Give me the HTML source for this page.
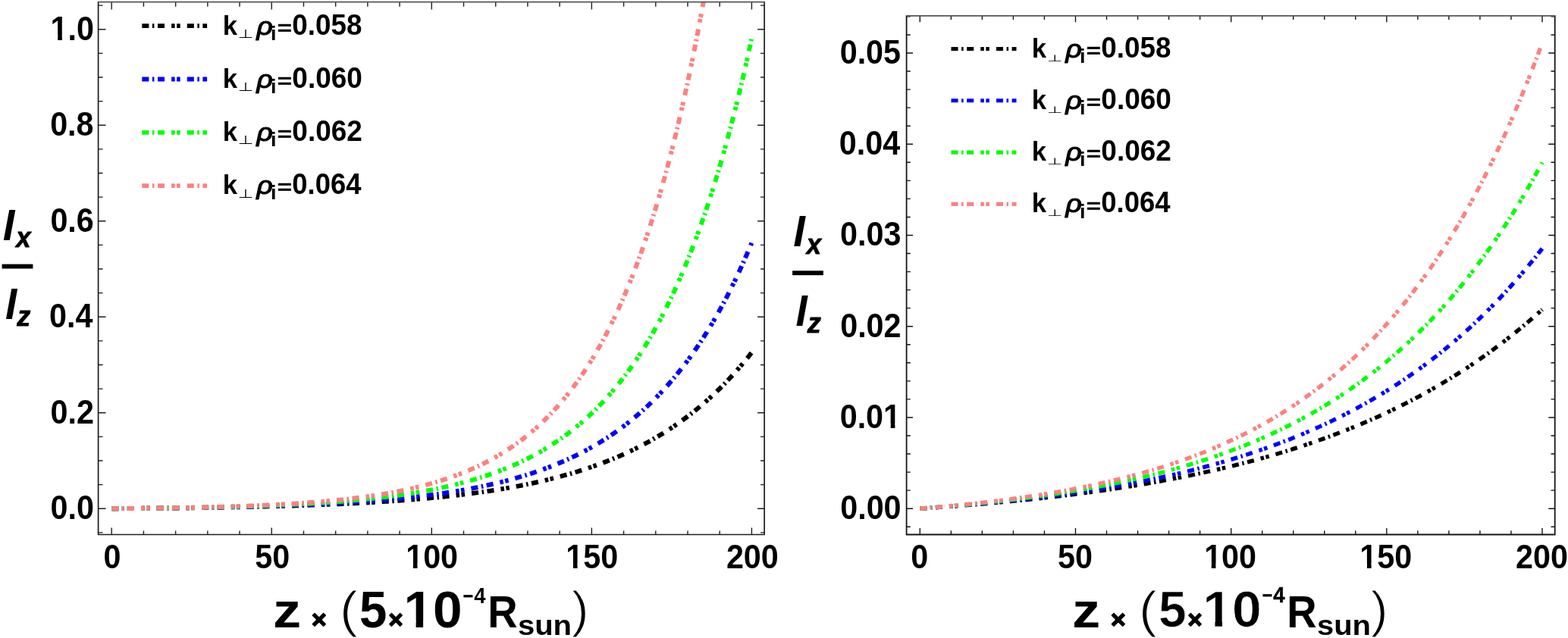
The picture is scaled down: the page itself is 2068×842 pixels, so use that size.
<!DOCTYPE html>
<html lang="en"><head><meta charset="utf-8"><title>Ix/Iz versus z</title>
<style>html,body{margin:0;padding:0;background:#fff}body{width:2068px;height:842px;overflow:hidden}svg{display:block}text{font-family:"Liberation Sans",Arial,Helvetica,sans-serif;font-size:100px;font-kerning:none;fill:#000}</style>
</head><body>
<svg width="2068" height="842" viewBox="0 0 2068 842">
<rect width="2068" height="842" fill="#fff"/>
<g id="left">
<clipPath id="clip-left"><rect x="129.6" y="2.7" width="878.5" height="702.8"/></clipPath>
<g clip-path="url(#clip-left)" fill="none" stroke-width="6.0" stroke-dasharray="9.07 4.53 2.52 4.53 9.07">
<path d="M147.2 671.2L150.58 671.18L153.95 671.15L157.33 671.13L160.71 671.1L164.08 671.08L167.46 671.05L170.84 671.02L174.21 671L177.59 670.97L180.97 670.94L184.34 670.91L187.72 670.88L191.1 670.85L194.48 670.82L197.85 670.79L201.23 670.76L204.61 670.72L207.98 670.69L211.36 670.65L214.74 670.62L218.11 670.58L221.49 670.55L224.87 670.51L228.24 670.47L231.62 670.43L235 670.39L238.37 670.35L241.75 670.31L245.13 670.27L248.5 670.23L251.88 670.18L255.26 670.14L258.63 670.09L262.01 670.04L265.39 669.99L268.76 669.95L272.14 669.9L275.52 669.84L278.9 669.79L282.27 669.74L285.65 669.68L289.03 669.63L292.4 669.57L295.78 669.51L299.16 669.45L302.53 669.39L305.91 669.33L309.29 669.27L312.66 669.21L316.04 669.14L319.42 669.07L322.79 669L326.17 668.93L329.55 668.86L332.92 668.79L336.3 668.72L339.68 668.64L343.05 668.56L346.43 668.48L349.81 668.4L353.18 668.32L356.56 668.23L359.94 668.15L363.32 668.06L366.69 667.97L370.07 667.88L373.45 667.78L376.82 667.69L380.2 667.59L383.58 667.49L386.95 667.39L390.33 667.29L393.71 667.18L397.08 667.07L400.46 666.96L403.84 666.85L407.21 666.73L410.59 666.61L413.97 666.49L417.34 666.37L420.72 666.24L424.1 666.12L427.47 665.99L430.85 665.85L434.23 665.72L437.6 665.58L440.98 665.43L444.36 665.29L447.74 665.14L451.11 664.99L454.49 664.83L457.87 664.68L461.24 664.51L464.62 664.35L468 664.18L471.37 664.01L474.75 663.83L478.13 663.66L481.5 663.47L484.88 663.29L488.26 663.1L491.63 662.9L495.01 662.7L498.39 662.5L501.76 662.29L505.14 662.08L508.52 661.86L511.89 661.64L515.27 661.42L518.65 661.19L522.02 660.95L525.4 660.71L528.78 660.47L532.16 660.22L535.53 659.96L538.91 659.7L542.29 659.44L545.66 659.17L549.04 658.89L552.42 658.6L555.79 658.31L559.17 658.02L562.55 657.72L565.92 657.41L569.3 657.1L572.68 656.77L576.05 656.45L579.43 656.11L582.81 655.77L586.18 655.42L589.56 655.06L592.94 654.7L596.31 654.33L599.69 653.95L603.07 653.56L606.44 653.16L609.82 652.76L613.2 652.35L616.58 651.93L619.95 651.5L623.33 651.06L626.71 650.61L630.08 650.15L633.46 649.68L636.84 649.2L640.21 648.72L643.59 648.22L646.97 647.71L650.34 647.19L653.72 646.66L657.1 646.12L660.47 645.57L663.85 645L667.23 644.43L670.6 643.84L673.98 643.24L677.36 642.62L680.73 642L684.11 641.36L687.49 640.7L690.86 640.04L694.24 639.35L697.62 638.66L701 637.95L704.37 637.22L707.75 636.48L711.13 635.73L714.5 634.95L717.88 634.17L721.26 633.36L724.63 632.54L728.01 631.7L731.39 630.84L734.76 629.97L738.14 629.07L741.52 628.16L744.89 627.23L748.27 626.28L751.65 625.31L755.02 624.31L758.4 623.3L761.78 622.27L765.15 621.21L768.53 620.13L771.91 619.03L775.28 617.91L778.66 616.76L782.04 615.59L785.42 614.39L788.79 613.17L792.17 611.92L795.55 610.65L798.92 609.34L802.3 608.02L805.68 606.66L809.05 605.27L812.43 603.86L815.81 602.41L819.18 600.94L822.56 599.43L825.94 597.9L829.31 596.32L832.69 594.72L836.07 593.08L839.44 591.41L842.82 589.71L846.2 587.96L849.57 586.18L852.95 584.36L856.33 582.51L859.7 580.61L863.08 578.68L866.46 576.7L869.84 574.69L873.21 572.63L876.59 570.52L879.97 568.37L883.34 566.18L886.72 563.94L890.1 561.65L893.47 559.32L896.85 556.94L900.23 554.5L903.6 552.02L906.98 549.48L910.36 546.88L913.73 544.24L917.11 541.54L920.49 538.78L923.86 535.96L927.24 533.08L930.62 530.14L933.99 527.14L937.37 524.08L940.75 520.95L944.12 517.76L947.5 514.5L950.88 511.17L954.26 507.77L957.63 504.3L961.01 500.75L964.39 497.13L967.76 493.43L971.14 489.66L974.52 485.81L977.89 481.87L981.27 477.85L984.65 473.75L988.02 469.56L991.4 465.28" stroke="#000000"/>
<path d="M147.2 671.2L150.58 671.18L153.95 671.15L157.33 671.12L160.71 671.1L164.08 671.07L167.46 671.04L170.84 671.02L174.21 670.99L177.59 670.96L180.97 670.93L184.34 670.9L187.72 670.86L191.1 670.83L194.48 670.8L197.85 670.76L201.23 670.73L204.61 670.69L207.98 670.66L211.36 670.62L214.74 670.58L218.11 670.54L221.49 670.5L224.87 670.46L228.24 670.42L231.62 670.38L235 670.33L238.37 670.29L241.75 670.24L245.13 670.19L248.5 670.15L251.88 670.1L255.26 670.05L258.63 669.99L262.01 669.94L265.39 669.89L268.76 669.83L272.14 669.77L275.52 669.72L278.9 669.66L282.27 669.6L285.65 669.53L289.03 669.47L292.4 669.4L295.78 669.34L299.16 669.27L302.53 669.2L305.91 669.13L309.29 669.05L312.66 668.98L316.04 668.9L319.42 668.82L322.79 668.74L326.17 668.66L329.55 668.57L332.92 668.49L336.3 668.4L339.68 668.31L343.05 668.22L346.43 668.12L349.81 668.03L353.18 667.93L356.56 667.82L359.94 667.72L363.32 667.61L366.69 667.5L370.07 667.39L373.45 667.28L376.82 667.16L380.2 667.04L383.58 666.92L386.95 666.79L390.33 666.67L393.71 666.53L397.08 666.4L400.46 666.26L403.84 666.12L407.21 665.98L410.59 665.83L413.97 665.68L417.34 665.52L420.72 665.37L424.1 665.2L427.47 665.04L430.85 664.87L434.23 664.69L437.6 664.52L440.98 664.33L444.36 664.15L447.74 663.96L451.11 663.76L454.49 663.56L457.87 663.36L461.24 663.15L464.62 662.93L468 662.72L471.37 662.49L474.75 662.26L478.13 662.03L481.5 661.79L484.88 661.54L488.26 661.29L491.63 661.03L495.01 660.76L498.39 660.49L501.76 660.22L505.14 659.93L508.52 659.64L511.89 659.35L515.27 659.04L518.65 658.73L522.02 658.41L525.4 658.09L528.78 657.76L532.16 657.41L535.53 657.06L538.91 656.71L542.29 656.34L545.66 655.97L549.04 655.58L552.42 655.19L555.79 654.79L559.17 654.38L562.55 653.96L565.92 653.53L569.3 653.09L572.68 652.63L576.05 652.17L579.43 651.7L582.81 651.22L586.18 650.72L589.56 650.21L592.94 649.7L596.31 649.16L599.69 648.62L603.07 648.06L606.44 647.49L609.82 646.91L613.2 646.32L616.58 645.7L619.95 645.08L623.33 644.44L626.71 643.78L630.08 643.11L633.46 642.43L636.84 641.73L640.21 641.01L643.59 640.27L646.97 639.52L650.34 638.75L653.72 637.96L657.1 637.15L660.47 636.32L663.85 635.48L667.23 634.61L670.6 633.73L673.98 632.82L677.36 631.89L680.73 630.94L684.11 629.97L687.49 628.97L690.86 627.95L694.24 626.91L697.62 625.84L701 624.75L704.37 623.63L707.75 622.49L711.13 621.31L714.5 620.11L717.88 618.89L721.26 617.63L724.63 616.34L728.01 615.03L731.39 613.68L734.76 612.3L738.14 610.89L741.52 609.44L744.89 607.96L748.27 606.45L751.65 604.9L755.02 603.31L758.4 601.69L761.78 600.03L765.15 598.33L768.53 596.59L771.91 594.8L775.28 592.98L778.66 591.11L782.04 589.2L785.42 587.25L788.79 585.24L792.17 583.2L795.55 581.1L798.92 578.95L802.3 576.75L805.68 574.5L809.05 572.2L812.43 569.85L815.81 567.43L819.18 564.97L822.56 562.44L825.94 559.85L829.31 557.21L832.69 554.5L836.07 551.72L839.44 548.88L842.82 545.98L846.2 543.01L849.57 539.96L852.95 536.85L856.33 533.66L859.7 530.39L863.08 527.05L866.46 523.63L869.84 520.13L873.21 516.55L876.59 512.88L879.97 509.13L883.34 505.29L886.72 501.35L890.1 497.33L893.47 493.21L896.85 488.99L900.23 484.68L903.6 480.26L906.98 475.74L910.36 471.11L913.73 466.37L917.11 461.52L920.49 456.56L923.86 451.48L927.24 446.28L930.62 440.96L933.99 435.51L937.37 429.93L940.75 424.23L944.12 418.38L947.5 412.41L950.88 406.29L954.26 400.02L957.63 393.61L961.01 387.05L964.39 380.33L967.76 373.45L971.14 366.42L974.52 359.21L977.89 351.84L981.27 344.29L984.65 336.57L988.02 328.66L991.4 320.57" stroke="#0000ff"/>
<path d="M147.2 671.2L150.58 671.17L153.95 671.14L157.33 671.11L160.71 671.08L164.08 671.05L167.46 671.02L170.84 670.99L174.21 670.96L177.59 670.92L180.97 670.89L184.34 670.85L187.72 670.82L191.1 670.78L194.48 670.74L197.85 670.7L201.23 670.66L204.61 670.62L207.98 670.58L211.36 670.53L214.74 670.49L218.11 670.44L221.49 670.39L224.87 670.34L228.24 670.3L231.62 670.24L235 670.19L238.37 670.14L241.75 670.08L245.13 670.03L248.5 669.97L251.88 669.91L255.26 669.85L258.63 669.79L262.01 669.72L265.39 669.66L268.76 669.59L272.14 669.52L275.52 669.45L278.9 669.38L282.27 669.3L285.65 669.22L289.03 669.15L292.4 669.06L295.78 668.98L299.16 668.9L302.53 668.81L305.91 668.72L309.29 668.63L312.66 668.54L316.04 668.44L319.42 668.34L322.79 668.24L326.17 668.13L329.55 668.03L332.92 667.92L336.3 667.81L339.68 667.69L343.05 667.57L346.43 667.45L349.81 667.33L353.18 667.2L356.56 667.07L359.94 666.93L363.32 666.8L366.69 666.66L370.07 666.51L373.45 666.36L376.82 666.21L380.2 666.05L383.58 665.89L386.95 665.73L390.33 665.56L393.71 665.39L397.08 665.21L400.46 665.03L403.84 664.84L407.21 664.65L410.59 664.45L413.97 664.25L417.34 664.05L420.72 663.83L424.1 663.62L427.47 663.39L430.85 663.16L434.23 662.93L437.6 662.69L440.98 662.44L444.36 662.19L447.74 661.93L451.11 661.66L454.49 661.39L457.87 661.11L461.24 660.82L464.62 660.52L468 660.22L471.37 659.91L474.75 659.59L478.13 659.27L481.5 658.93L484.88 658.59L488.26 658.23L491.63 657.87L495.01 657.5L498.39 657.12L501.76 656.73L505.14 656.33L508.52 655.92L511.89 655.5L515.27 655.06L518.65 654.62L522.02 654.17L525.4 653.7L528.78 653.22L532.16 652.73L535.53 652.23L538.91 651.71L542.29 651.18L545.66 650.64L549.04 650.08L552.42 649.51L555.79 648.92L559.17 648.32L562.55 647.7L565.92 647.07L569.3 646.42L572.68 645.75L576.05 645.07L579.43 644.37L582.81 643.65L586.18 642.91L589.56 642.16L592.94 641.38L596.31 640.58L599.69 639.77L603.07 638.93L606.44 638.07L609.82 637.19L613.2 636.28L616.58 635.36L619.95 634.41L623.33 633.43L626.71 632.43L630.08 631.4L633.46 630.35L636.84 629.27L640.21 628.16L643.59 627.02L646.97 625.86L650.34 624.66L653.72 623.44L657.1 622.18L660.47 620.89L663.85 619.56L667.23 618.2L670.6 616.81L673.98 615.38L677.36 613.92L680.73 612.41L684.11 610.87L687.49 609.29L690.86 607.66L694.24 606L697.62 604.29L701 602.54L704.37 600.74L707.75 598.9L711.13 597.01L714.5 595.07L717.88 593.08L721.26 591.04L724.63 588.95L728.01 586.8L731.39 584.6L734.76 582.34L738.14 580.02L741.52 577.64L744.89 575.21L748.27 572.7L751.65 570.14L755.02 567.51L758.4 564.81L761.78 562.04L765.15 559.2L768.53 556.28L771.91 553.3L775.28 550.23L778.66 547.09L782.04 543.86L785.42 540.55L788.79 537.16L792.17 533.68L795.55 530.1L798.92 526.44L802.3 522.68L805.68 518.83L809.05 514.87L812.43 510.82L815.81 506.66L819.18 502.39L822.56 498.01L825.94 493.52L829.31 488.92L832.69 484.19L836.07 479.35L839.44 474.38L842.82 469.28L846.2 464.05L849.57 458.68L852.95 453.18L856.33 447.53L859.7 441.74L863.08 435.8L866.46 429.71L869.84 423.46L873.21 417.05L876.59 410.47L879.97 403.73L883.34 396.81L886.72 389.71L890.1 382.43L893.47 374.96L896.85 367.3L900.23 359.44L903.6 351.38L906.98 343.11L910.36 334.63L913.73 325.93L917.11 317.01L920.49 307.85L923.86 298.46L927.24 288.83L930.62 278.95L933.99 268.82L937.37 258.42L940.75 247.76L944.12 236.82L947.5 225.6L950.88 214.09L954.26 202.28L957.63 190.17L961.01 177.75L964.39 165.01L967.76 151.94L971.14 138.53L974.52 124.78L977.89 110.67L981.27 96.2L984.65 81.36L988.02 66.13L991.4 50.52" stroke="#00ff00"/>
<path d="M147.2 671.2L150.58 671.17L153.95 671.14L157.33 671.11L160.71 671.08L164.08 671.04L167.46 671.01L170.84 670.98L174.21 670.94L177.59 670.9L180.97 670.87L184.34 670.83L187.72 670.79L191.1 670.75L194.48 670.7L197.85 670.66L201.23 670.61L204.61 670.57L207.98 670.52L211.36 670.47L214.74 670.42L218.11 670.37L221.49 670.32L224.87 670.26L228.24 670.21L231.62 670.15L235 670.09L238.37 670.03L241.75 669.97L245.13 669.9L248.5 669.84L251.88 669.77L255.26 669.7L258.63 669.63L262.01 669.55L265.39 669.48L268.76 669.4L272.14 669.32L275.52 669.23L278.9 669.15L282.27 669.06L285.65 668.97L289.03 668.88L292.4 668.78L295.78 668.69L299.16 668.59L302.53 668.48L305.91 668.37L309.29 668.27L312.66 668.15L316.04 668.04L319.42 667.92L322.79 667.79L326.17 667.67L329.55 667.54L332.92 667.41L336.3 667.27L339.68 667.13L343.05 666.98L346.43 666.83L349.81 666.68L353.18 666.52L356.56 666.36L359.94 666.19L363.32 666.02L366.69 665.85L370.07 665.66L373.45 665.48L376.82 665.29L380.2 665.09L383.58 664.88L386.95 664.68L390.33 664.46L393.71 664.24L397.08 664.01L400.46 663.78L403.84 663.54L407.21 663.29L410.59 663.04L413.97 662.78L417.34 662.51L420.72 662.23L424.1 661.95L427.47 661.66L430.85 661.36L434.23 661.05L437.6 660.73L440.98 660.4L444.36 660.07L447.74 659.72L451.11 659.37L454.49 659L457.87 658.63L461.24 658.24L464.62 657.84L468 657.43L471.37 657.01L474.75 656.58L478.13 656.14L481.5 655.68L484.88 655.21L488.26 654.73L491.63 654.23L495.01 653.72L498.39 653.19L501.76 652.65L505.14 652.09L508.52 651.52L511.89 650.93L515.27 650.33L518.65 649.71L522.02 649.07L525.4 648.41L528.78 647.73L532.16 647.04L535.53 646.32L538.91 645.59L542.29 644.83L545.66 644.05L549.04 643.25L552.42 642.43L555.79 641.58L559.17 640.71L562.55 639.81L565.92 638.89L569.3 637.95L572.68 636.97L576.05 635.97L579.43 634.94L582.81 633.88L586.18 632.8L589.56 631.68L592.94 630.52L596.31 629.34L599.69 628.12L603.07 626.87L606.44 625.58L609.82 624.26L613.2 622.89L616.58 621.49L619.95 620.05L623.33 618.57L626.71 617.04L630.08 615.48L633.46 613.87L636.84 612.21L640.21 610.5L643.59 608.75L646.97 606.95L650.34 605.09L653.72 603.19L657.1 601.23L660.47 599.21L663.85 597.14L667.23 595.01L670.6 592.81L673.98 590.56L677.36 588.24L680.73 585.85L684.11 583.4L687.49 580.88L690.86 578.28L694.24 575.61L697.62 572.87L701 570.05L704.37 567.15L707.75 564.16L711.13 561.1L714.5 557.94L717.88 554.69L721.26 551.36L724.63 547.92L728.01 544.39L731.39 540.76L734.76 537.03L738.14 533.19L741.52 529.24L744.89 525.18L748.27 521.01L751.65 516.71L755.02 512.3L758.4 507.76L761.78 503.08L765.15 498.28L768.53 493.34L771.91 488.26L775.28 483.04L778.66 477.67L782.04 472.14L785.42 466.46L788.79 460.62L792.17 454.61L795.55 448.43L798.92 442.07L802.3 435.54L805.68 428.81L809.05 421.9L812.43 414.79L815.81 407.48L819.18 399.97L822.56 392.24L825.94 384.28L829.31 376.11L832.69 367.7L836.07 359.05L839.44 350.16L842.82 341.01L846.2 331.61L849.57 321.94L852.95 311.99L856.33 301.76L859.7 291.24L863.08 280.42L866.46 269.29L869.84 257.85L873.21 246.09L876.59 233.99L879.97 221.54L883.34 208.74L886.72 195.58L890.1 182.05L893.47 168.13L896.85 153.81L900.23 139.09L903.6 123.95L906.98 108.38L910.36 92.37L913.73 75.91L917.11 58.97L920.49 41.56L923.86 23.65L927.24 5.24L930.62 -13.7L933.99 -33.18L937.37 -53.21L940.75 -73.81L944.12 -95L947.5 -116.78L950.88 -139.19L954.26 -162.23L957.63 -185.92L961.01 -210.29L964.39 -235.35L967.76 -261.12L971.14 -287.63L974.52 -314.88L977.89 -342.91L981.27 -371.74L984.65 -401.38L988.02 -431.87L991.4 -463.22" stroke="#ff8080"/>
</g>
<path d="M147.2 705.5v-9M147.2 2.7v9.9M189.41 705.5v-5.05M189.41 2.7v5.95M231.62 705.5v-5.05M231.62 2.7v5.95M273.83 705.5v-5.05M273.83 2.7v5.95M316.04 705.5v-5.05M316.04 2.7v5.95M358.25 705.5v-9M358.25 2.7v9.9M400.46 705.5v-5.05M400.46 2.7v5.95M442.67 705.5v-5.05M442.67 2.7v5.95M484.88 705.5v-5.05M484.88 2.7v5.95M527.09 705.5v-5.05M527.09 2.7v5.95M569.3 705.5v-9M569.3 2.7v9.9M611.51 705.5v-5.05M611.51 2.7v5.95M653.72 705.5v-5.05M653.72 2.7v5.95M695.93 705.5v-5.05M695.93 2.7v5.95M738.14 705.5v-5.05M738.14 2.7v5.95M780.35 705.5v-9M780.35 2.7v9.9M822.56 705.5v-5.05M822.56 2.7v5.95M864.77 705.5v-5.05M864.77 2.7v5.95M906.98 705.5v-5.05M906.98 2.7v5.95M949.19 705.5v-5.05M949.19 2.7v5.95M991.4 705.5v-9M991.4 2.7v9.9M129.6 702.83h5.95M1008.1 702.83h-5.05M129.6 671.2h9.9M1008.1 671.2h-9M129.6 639.58h5.95M1008.1 639.58h-5.05M129.6 607.95h5.95M1008.1 607.95h-5.05M129.6 576.33h5.95M1008.1 576.33h-5.05M129.6 544.7h9.9M1008.1 544.7h-9M129.6 513.08h5.95M1008.1 513.08h-5.05M129.6 481.45h5.95M1008.1 481.45h-5.05M129.6 449.83h5.95M1008.1 449.83h-5.05M129.6 418.2h9.9M1008.1 418.2h-9M129.6 386.58h5.95M1008.1 386.58h-5.05M129.6 354.95h5.95M1008.1 354.95h-5.05M129.6 323.33h5.95M1008.1 323.33h-5.05M129.6 291.7h9.9M1008.1 291.7h-9M129.6 260.08h5.95M1008.1 260.08h-5.05M129.6 228.45h5.95M1008.1 228.45h-5.05M129.6 196.83h5.95M1008.1 196.83h-5.05M129.6 165.2h9.9M1008.1 165.2h-9M129.6 133.58h5.95M1008.1 133.58h-5.05M129.6 101.95h5.95M1008.1 101.95h-5.05M129.6 70.33h5.95M1008.1 70.33h-5.05M129.6 38.7h9.9M1008.1 38.7h-9M129.6 7.08h5.95M1008.1 7.08h-5.05" stroke="#1e1e1e" stroke-width="1.4" fill="none"/>
<path d="M129.6 2.7V705.5H1008.1V2.7" fill="none" stroke="#1e1e1e" stroke-width="1.7" stroke-linejoin="miter"/>
<path d="M128.75 2.7H1008.95" fill="none" stroke="#555555" stroke-width="1.7"/>
<text transform="translate(66.58 685.2) scale(0.413 0.446)" style="font-weight:bold">0.0</text>
<text transform="translate(66.54 558.7) scale(0.413 0.446)" style="font-weight:bold">0.2</text>
<text transform="translate(65.11 432.2) scale(0.413 0.446)" style="font-weight:bold">0.4</text>
<text transform="translate(66.38 305.7) scale(0.413 0.446)" style="font-weight:bold">0.6</text>
<text transform="translate(66.16 179.2) scale(0.413 0.446)" style="font-weight:bold">0.8</text>
<g transform="translate(66.58 52.7) scale(0.413 0.446)"><text style="font-weight:bold">1.0</text><g fill="#fff"><rect x="2.81" y="-13.7" width="20.53" height="17.19"/><rect x="37.06" y="-13.7" width="19.26" height="17.19"/></g></g>
<text transform="translate(136.55 750) scale(0.413 0.446)" style="font-weight:bold">0</text>
<text transform="translate(336.29 750) scale(0.413 0.446)" style="font-weight:bold">50</text>
<g transform="translate(535.19 750) scale(0.413 0.446)"><text style="font-weight:bold">100</text><g fill="#fff"><rect x="2.81" y="-13.7" width="20.53" height="17.19"/><rect x="37.06" y="-13.7" width="19.26" height="17.19"/></g></g>
<g transform="translate(746.24 750) scale(0.413 0.446)"><text style="font-weight:bold">150</text><g fill="#fff"><rect x="2.81" y="-13.7" width="20.53" height="17.19"/><rect x="37.06" y="-13.7" width="19.26" height="17.19"/></g></g>
<text transform="translate(957.88 750) scale(0.413 0.446)" style="font-weight:bold">200</text>
<line x1="187.3" y1="34.2" x2="273.1" y2="34.2" stroke="#000000" stroke-width="5.8" stroke-dasharray="9.07 4.53 2.52 4.53 9.07"/>
<g class="legend-label"><text transform="translate(293.78 45.8) scale(0.3468 0.3588)" style="font-weight:bold">k</text><text transform="translate(314.1 50.3) scale(0.2342 0.1557)" style="font-weight:normal;font-family:'DejaVu Sans',sans-serif" fill="#333">⊥</text><text transform="translate(338.41 45.77) scale(0.3708 0.334)" style="font-weight:normal;font-style:italic" stroke="#000" stroke-width="3.69" stroke-linejoin="round">ρ</text><text transform="translate(357.12 53.1) scale(0.2697 0.2636)" style="font-weight:bold">i</text><text transform="translate(365.64 46.12) scale(0.327 0.262)" style="font-weight:bold" stroke="#000" stroke-width="1.7" stroke-linejoin="round">=</text><text transform="translate(385.34 45.71) scale(0.368 0.3969)" style="font-weight:bold">0.058</text></g>
<line x1="187.3" y1="104.5" x2="273.1" y2="104.5" stroke="#0000ff" stroke-width="5.8" stroke-dasharray="9.07 4.53 2.52 4.53 9.07"/>
<g class="legend-label"><text transform="translate(293.78 115.8) scale(0.3468 0.3588)" style="font-weight:bold">k</text><text transform="translate(314.1 120.3) scale(0.2342 0.1557)" style="font-weight:normal;font-family:'DejaVu Sans',sans-serif" fill="#333">⊥</text><text transform="translate(338.41 115.77) scale(0.3708 0.334)" style="font-weight:normal;font-style:italic" stroke="#000" stroke-width="3.69" stroke-linejoin="round">ρ</text><text transform="translate(357.12 123.1) scale(0.2697 0.2636)" style="font-weight:bold">i</text><text transform="translate(365.64 116.12) scale(0.327 0.262)" style="font-weight:bold" stroke="#000" stroke-width="1.7" stroke-linejoin="round">=</text><text transform="translate(385.34 115.71) scale(0.3695 0.3969)" style="font-weight:bold">0.060</text></g>
<line x1="187.3" y1="174.8" x2="273.1" y2="174.8" stroke="#00ff00" stroke-width="5.8" stroke-dasharray="9.07 4.53 2.52 4.53 9.07"/>
<g class="legend-label"><text transform="translate(293.78 185.7) scale(0.3468 0.3588)" style="font-weight:bold">k</text><text transform="translate(314.1 190.2) scale(0.2342 0.1557)" style="font-weight:normal;font-family:'DejaVu Sans',sans-serif" fill="#333">⊥</text><text transform="translate(338.41 185.67) scale(0.3708 0.334)" style="font-weight:normal;font-style:italic" stroke="#000" stroke-width="3.69" stroke-linejoin="round">ρ</text><text transform="translate(357.12 193) scale(0.2697 0.2636)" style="font-weight:bold">i</text><text transform="translate(365.64 186.02) scale(0.327 0.262)" style="font-weight:bold" stroke="#000" stroke-width="1.7" stroke-linejoin="round">=</text><text transform="translate(385.34 185.61) scale(0.3694 0.3969)" style="font-weight:bold">0.062</text></g>
<line x1="187.3" y1="245.1" x2="273.1" y2="245.1" stroke="#ff8080" stroke-width="5.8" stroke-dasharray="9.07 4.53 2.52 4.53 9.07"/>
<g class="legend-label"><text transform="translate(293.78 256) scale(0.3468 0.3588)" style="font-weight:bold">k</text><text transform="translate(314.1 260.5) scale(0.2342 0.1557)" style="font-weight:normal;font-family:'DejaVu Sans',sans-serif" fill="#333">⊥</text><text transform="translate(338.41 255.97) scale(0.3708 0.334)" style="font-weight:normal;font-style:italic" stroke="#000" stroke-width="3.69" stroke-linejoin="round">ρ</text><text transform="translate(357.12 263.3) scale(0.2697 0.2636)" style="font-weight:bold">i</text><text transform="translate(365.64 256.32) scale(0.327 0.262)" style="font-weight:bold" stroke="#000" stroke-width="1.7" stroke-linejoin="round">=</text><text transform="translate(385.36 255.91) scale(0.3642 0.3969)" style="font-weight:bold">0.064</text></g>
<g class="x-axis-label"><text transform="translate(359.92 828.2) scale(0.7432 0.6473)" style="font-weight:bold">z</text> <text transform="translate(410.99 829.25) scale(0.336 0.3353)" style="font-weight:bold" stroke="#000" stroke-width="4.77" stroke-linejoin="round">×</text> <text transform="translate(447.96 826.51) scale(0.7166 0.6612)" style="font-weight:normal" stroke="#fff" stroke-width="1.74">(</text><text transform="translate(474.09 827.84) scale(0.6532 0.6793)" style="font-weight:bold">5</text><text transform="translate(512.53 829.25) scale(0.326 0.3353)" style="font-weight:bold" stroke="#000" stroke-width="4.84" stroke-linejoin="round">×</text><g transform="translate(532.44 827.84) scale(0.6923 0.6794)"><text style="font-weight:bold">10</text><g fill="#fff"><rect x="4.11" y="-12.39" width="19.23" height="14.58"/><rect x="37.06" y="-12.39" width="17.96" height="14.58"/></g></g><text transform="translate(610.6 797.28) scale(0.2413 0.3017)" style="font-weight:bold">−</text><text transform="translate(625.28 795.9) scale(0.2744 0.2994)" style="font-weight:bold">4</text><text transform="translate(643.25 828.2) scale(0.5451 0.5901)" style="font-weight:bold">R</text><text transform="translate(682.89 838.03) scale(0.4004 0.3757)" style="font-weight:bold">sun</text><text transform="translate(754 826.51) scale(0.6751 0.6612)" style="font-weight:normal" stroke="#fff" stroke-width="1.8">)</text></g>
<g class="y-axis-label"><text transform="translate(3.71 316.6) scale(0.5625 0.5741)" style="font-weight:bold;font-style:italic">I</text><text transform="translate(21.13 326.1) scale(0.3471 0.3748)" style="font-weight:bold;font-style:italic" stroke="#000" stroke-width="2.22" stroke-linejoin="round">x</text><rect x="2.6" y="348.6" width="40.8" height="5.9" fill="#000"/><text transform="translate(6.94 420.9) scale(0.5481 0.5712)" style="font-weight:bold;font-style:italic">I</text><text transform="translate(22.18 430.2) scale(0.3614 0.3691)" style="font-weight:bold;font-style:italic" stroke="#000" stroke-width="2.19" stroke-linejoin="round">z</text></g>
</g>
<g id="right">
<clipPath id="clip-right"><rect x="1195.6" y="20.8" width="855.1" height="684.7"/></clipPath>
<g clip-path="url(#clip-right)" fill="none" stroke-width="5.4" stroke-dasharray="9.07 4.53 2.52 4.53 9.07">
<path d="M1213.3 671.2L1216.58 670.98L1219.87 670.76L1223.15 670.54L1226.43 670.32L1229.71 670.09L1233 669.86L1236.28 669.63L1239.56 669.39L1242.85 669.16L1246.13 668.92L1249.41 668.68L1252.69 668.43L1255.98 668.19L1259.26 667.94L1262.54 667.68L1265.82 667.43L1269.11 667.17L1272.39 666.91L1275.67 666.65L1278.96 666.38L1282.24 666.12L1285.52 665.84L1288.8 665.57L1292.09 665.29L1295.37 665.01L1298.65 664.73L1301.94 664.45L1305.22 664.16L1308.5 663.87L1311.78 663.57L1315.07 663.27L1318.35 662.97L1321.63 662.67L1324.92 662.36L1328.2 662.05L1331.48 661.74L1334.76 661.42L1338.05 661.1L1341.33 660.77L1344.61 660.45L1347.89 660.12L1351.18 659.78L1354.46 659.44L1357.74 659.1L1361.03 658.76L1364.31 658.41L1367.59 658.06L1370.87 657.7L1374.16 657.34L1377.44 656.98L1380.72 656.61L1384.01 656.24L1387.29 655.86L1390.57 655.49L1393.85 655.1L1397.14 654.71L1400.42 654.32L1403.7 653.93L1406.99 653.53L1410.27 653.13L1413.55 652.72L1416.83 652.31L1420.12 651.89L1423.4 651.47L1426.68 651.04L1429.96 650.61L1433.25 650.18L1436.53 649.74L1439.81 649.3L1443.1 648.85L1446.38 648.4L1449.66 647.94L1452.94 647.48L1456.23 647.01L1459.51 646.54L1462.79 646.06L1466.08 645.58L1469.36 645.09L1472.64 644.6L1475.92 644.1L1479.21 643.6L1482.49 643.09L1485.77 642.57L1489.06 642.06L1492.34 641.53L1495.62 641L1498.9 640.47L1502.19 639.92L1505.47 639.38L1508.75 638.82L1512.03 638.27L1515.32 637.7L1518.6 637.13L1521.88 636.56L1525.17 635.97L1528.45 635.39L1531.73 634.79L1535.01 634.19L1538.3 633.58L1541.58 632.97L1544.86 632.35L1548.15 631.72L1551.43 631.09L1554.71 630.45L1557.99 629.8L1561.28 629.15L1564.56 628.49L1567.84 627.82L1571.13 627.15L1574.41 626.47L1577.69 625.78L1580.97 625.08L1584.26 624.38L1587.54 623.67L1590.82 622.95L1594.1 622.23L1597.39 621.49L1600.67 620.75L1603.95 620L1607.24 619.25L1610.52 618.48L1613.8 617.71L1617.08 616.93L1620.37 616.14L1623.65 615.34L1626.93 614.54L1630.22 613.72L1633.5 612.9L1636.78 612.07L1640.06 611.23L1643.35 610.38L1646.63 609.52L1649.91 608.65L1653.2 607.78L1656.48 606.89L1659.76 606L1663.04 605.09L1666.33 604.18L1669.61 603.26L1672.89 602.33L1676.17 601.38L1679.46 600.43L1682.74 599.47L1686.02 598.5L1689.31 597.51L1692.59 596.52L1695.87 595.52L1699.15 594.5L1702.44 593.48L1705.72 592.44L1709 591.39L1712.29 590.34L1715.57 589.27L1718.85 588.19L1722.13 587.1L1725.42 585.99L1728.7 584.88L1731.98 583.75L1735.27 582.61L1738.55 581.46L1741.83 580.3L1745.11 579.13L1748.4 577.94L1751.68 576.74L1754.96 575.53L1758.24 574.3L1761.53 573.07L1764.81 571.82L1768.09 570.55L1771.38 569.27L1774.66 567.98L1777.94 566.68L1781.22 565.36L1784.51 564.03L1787.79 562.68L1791.07 561.32L1794.36 559.95L1797.64 558.56L1800.92 557.16L1804.2 555.74L1807.49 554.31L1810.77 552.86L1814.05 551.4L1817.34 549.92L1820.62 548.42L1823.9 546.91L1827.18 545.39L1830.47 543.84L1833.75 542.29L1837.03 540.71L1840.31 539.12L1843.6 537.51L1846.88 535.89L1850.16 534.24L1853.45 532.59L1856.73 530.91L1860.01 529.21L1863.29 527.5L1866.58 525.77L1869.86 524.02L1873.14 522.26L1876.43 520.47L1879.71 518.67L1882.99 516.84L1886.27 515L1889.56 513.14L1892.84 511.26L1896.12 509.36L1899.41 507.43L1902.69 505.49L1905.97 503.53L1909.25 501.55L1912.54 499.54L1915.82 497.52L1919.1 495.47L1922.38 493.41L1925.67 491.32L1928.95 489.21L1932.23 487.07L1935.52 484.92L1938.8 482.74L1942.08 480.54L1945.36 478.31L1948.65 476.06L1951.93 473.79L1955.21 471.5L1958.5 469.18L1961.78 466.83L1965.06 464.46L1968.34 462.07L1971.63 459.65L1974.91 457.21L1978.19 454.74L1981.48 452.24L1984.76 449.72L1988.04 447.17L1991.32 444.59L1994.61 441.99L1997.89 439.36L2001.17 436.7L2004.45 434.01L2007.74 431.3L2011.02 428.56L2014.3 425.78L2017.59 422.98L2020.87 420.15L2024.15 417.29L2027.43 414.4L2030.72 411.48L2034 408.53" stroke="#000000"/>
<path d="M1213.3 671.2L1216.58 670.97L1219.87 670.74L1223.15 670.5L1226.43 670.26L1229.71 670.02L1233 669.78L1236.28 669.53L1239.56 669.28L1242.85 669.03L1246.13 668.77L1249.41 668.51L1252.69 668.25L1255.98 667.98L1259.26 667.71L1262.54 667.44L1265.82 667.17L1269.11 666.89L1272.39 666.61L1275.67 666.33L1278.96 666.04L1282.24 665.75L1285.52 665.45L1288.8 665.15L1292.09 664.85L1295.37 664.55L1298.65 664.24L1301.94 663.93L1305.22 663.61L1308.5 663.29L1311.78 662.97L1315.07 662.64L1318.35 662.31L1321.63 661.98L1324.92 661.64L1328.2 661.29L1331.48 660.95L1334.76 660.6L1338.05 660.24L1341.33 659.88L1344.61 659.52L1347.89 659.15L1351.18 658.78L1354.46 658.4L1357.74 658.02L1361.03 657.64L1364.31 657.25L1367.59 656.85L1370.87 656.46L1374.16 656.05L1377.44 655.64L1380.72 655.23L1384.01 654.81L1387.29 654.39L1390.57 653.96L1393.85 653.53L1397.14 653.09L1400.42 652.65L1403.7 652.2L1406.99 651.75L1410.27 651.29L1413.55 650.82L1416.83 650.36L1420.12 649.88L1423.4 649.4L1426.68 648.91L1429.96 648.42L1433.25 647.92L1436.53 647.42L1439.81 646.91L1443.1 646.39L1446.38 645.87L1449.66 645.35L1452.94 644.81L1456.23 644.27L1459.51 643.73L1462.79 643.17L1466.08 642.61L1469.36 642.05L1472.64 641.47L1475.92 640.9L1479.21 640.31L1482.49 639.72L1485.77 639.12L1489.06 638.51L1492.34 637.9L1495.62 637.27L1498.9 636.65L1502.19 636.01L1505.47 635.37L1508.75 634.72L1512.03 634.06L1515.32 633.39L1518.6 632.72L1521.88 632.03L1525.17 631.34L1528.45 630.65L1531.73 629.94L1535.01 629.23L1538.3 628.5L1541.58 627.77L1544.86 627.03L1548.15 626.28L1551.43 625.53L1554.71 624.76L1557.99 623.98L1561.28 623.2L1564.56 622.41L1567.84 621.6L1571.13 620.79L1574.41 619.97L1577.69 619.14L1580.97 618.3L1584.26 617.44L1587.54 616.58L1590.82 615.71L1594.1 614.83L1597.39 613.94L1600.67 613.04L1603.95 612.12L1607.24 611.2L1610.52 610.26L1613.8 609.32L1617.08 608.36L1620.37 607.4L1623.65 606.42L1626.93 605.43L1630.22 604.42L1633.5 603.41L1636.78 602.38L1640.06 601.35L1643.35 600.3L1646.63 599.23L1649.91 598.16L1653.2 597.07L1656.48 595.97L1659.76 594.86L1663.04 593.73L1666.33 592.59L1669.61 591.44L1672.89 590.27L1676.17 589.09L1679.46 587.9L1682.74 586.69L1686.02 585.47L1689.31 584.23L1692.59 582.98L1695.87 581.72L1699.15 580.44L1702.44 579.14L1705.72 577.83L1709 576.5L1712.29 575.16L1715.57 573.81L1718.85 572.43L1722.13 571.04L1725.42 569.64L1728.7 568.22L1731.98 566.78L1735.27 565.32L1738.55 563.85L1741.83 562.36L1745.11 560.85L1748.4 559.33L1751.68 557.78L1754.96 556.22L1758.24 554.64L1761.53 553.04L1764.81 551.43L1768.09 549.79L1771.38 548.14L1774.66 546.46L1777.94 544.77L1781.22 543.05L1784.51 541.32L1787.79 539.57L1791.07 537.79L1794.36 536L1797.64 534.18L1800.92 532.34L1804.2 530.48L1807.49 528.6L1810.77 526.7L1814.05 524.77L1817.34 522.82L1820.62 520.85L1823.9 518.86L1827.18 516.84L1830.47 514.8L1833.75 512.73L1837.03 510.64L1840.31 508.53L1843.6 506.39L1846.88 504.22L1850.16 502.04L1853.45 499.82L1856.73 497.58L1860.01 495.31L1863.29 493.02L1866.58 490.7L1869.86 488.35L1873.14 485.97L1876.43 483.57L1879.71 481.14L1882.99 478.68L1886.27 476.19L1889.56 473.67L1892.84 471.12L1896.12 468.54L1899.41 465.93L1902.69 463.3L1905.97 460.63L1909.25 457.93L1912.54 455.19L1915.82 452.43L1919.1 449.63L1922.38 446.8L1925.67 443.94L1928.95 441.04L1932.23 438.11L1935.52 435.14L1938.8 432.14L1942.08 429.11L1945.36 426.04L1948.65 422.93L1951.93 419.79L1955.21 416.61L1958.5 413.39L1961.78 410.14L1965.06 406.84L1968.34 403.51L1971.63 400.14L1974.91 396.73L1978.19 393.28L1981.48 389.79L1984.76 386.25L1988.04 382.68L1991.32 379.07L1994.61 375.41L1997.89 371.71L2001.17 367.96L2004.45 364.17L2007.74 360.34L2011.02 356.46L2014.3 352.54L2017.59 348.57L2020.87 344.56L2024.15 340.49L2027.43 336.38L2030.72 332.22L2034 328.02" stroke="#0000ff"/>
<path d="M1213.3 671.2L1216.58 670.95L1219.87 670.7L1223.15 670.45L1226.43 670.19L1229.71 669.93L1233 669.66L1236.28 669.39L1239.56 669.12L1242.85 668.85L1246.13 668.57L1249.41 668.29L1252.69 668L1255.98 667.71L1259.26 667.42L1262.54 667.12L1265.82 666.82L1269.11 666.52L1272.39 666.21L1275.67 665.89L1278.96 665.58L1282.24 665.26L1285.52 664.93L1288.8 664.6L1292.09 664.27L1295.37 663.93L1298.65 663.59L1301.94 663.24L1305.22 662.89L1308.5 662.54L1311.78 662.18L1315.07 661.81L1318.35 661.44L1321.63 661.07L1324.92 660.69L1328.2 660.31L1331.48 659.92L1334.76 659.52L1338.05 659.12L1341.33 658.72L1344.61 658.31L1347.89 657.89L1351.18 657.47L1354.46 657.05L1357.74 656.62L1361.03 656.18L1364.31 655.74L1367.59 655.29L1370.87 654.84L1374.16 654.38L1377.44 653.91L1380.72 653.44L1384.01 652.96L1387.29 652.48L1390.57 651.99L1393.85 651.49L1397.14 650.99L1400.42 650.48L1403.7 649.97L1406.99 649.44L1410.27 648.91L1413.55 648.38L1416.83 647.83L1420.12 647.28L1423.4 646.73L1426.68 646.16L1429.96 645.59L1433.25 645.01L1436.53 644.42L1439.81 643.83L1443.1 643.23L1446.38 642.62L1449.66 642L1452.94 641.38L1456.23 640.74L1459.51 640.1L1462.79 639.45L1466.08 638.79L1469.36 638.13L1472.64 637.45L1475.92 636.77L1479.21 636.07L1482.49 635.37L1485.77 634.66L1489.06 633.94L1492.34 633.21L1495.62 632.47L1498.9 631.72L1502.19 630.96L1505.47 630.2L1508.75 629.42L1512.03 628.63L1515.32 627.83L1518.6 627.02L1521.88 626.2L1525.17 625.37L1528.45 624.53L1531.73 623.68L1535.01 622.82L1538.3 621.95L1541.58 621.06L1544.86 620.17L1548.15 619.26L1551.43 618.34L1554.71 617.41L1557.99 616.46L1561.28 615.51L1564.56 614.54L1567.84 613.56L1571.13 612.57L1574.41 611.56L1577.69 610.54L1580.97 609.51L1584.26 608.47L1587.54 607.41L1590.82 606.33L1594.1 605.25L1597.39 604.15L1600.67 603.03L1603.95 601.9L1607.24 600.76L1610.52 599.6L1613.8 598.43L1617.08 597.24L1620.37 596.04L1623.65 594.82L1626.93 593.58L1630.22 592.33L1633.5 591.06L1636.78 589.78L1640.06 588.48L1643.35 587.16L1646.63 585.83L1649.91 584.48L1653.2 583.11L1656.48 581.72L1659.76 580.32L1663.04 578.89L1666.33 577.45L1669.61 575.99L1672.89 574.51L1676.17 573.02L1679.46 571.5L1682.74 569.96L1686.02 568.41L1689.31 566.83L1692.59 565.23L1695.87 563.61L1699.15 561.98L1702.44 560.32L1705.72 558.64L1709 556.93L1712.29 555.21L1715.57 553.46L1718.85 551.69L1722.13 549.9L1725.42 548.08L1728.7 546.24L1731.98 544.38L1735.27 542.49L1738.55 540.58L1741.83 538.65L1745.11 536.69L1748.4 534.7L1751.68 532.69L1754.96 530.65L1758.24 528.58L1761.53 526.49L1764.81 524.38L1768.09 522.23L1771.38 520.06L1774.66 517.86L1777.94 515.63L1781.22 513.37L1784.51 511.08L1787.79 508.76L1791.07 506.41L1794.36 504.04L1797.64 501.63L1800.92 499.19L1804.2 496.72L1807.49 494.21L1810.77 491.68L1814.05 489.11L1817.34 486.51L1820.62 483.88L1823.9 481.21L1827.18 478.5L1830.47 475.76L1833.75 472.99L1837.03 470.18L1840.31 467.34L1843.6 464.45L1846.88 461.53L1850.16 458.58L1853.45 455.58L1856.73 452.54L1860.01 449.47L1863.29 446.36L1866.58 443.2L1869.86 440.01L1873.14 436.77L1876.43 433.5L1879.71 430.18L1882.99 426.81L1886.27 423.41L1889.56 419.96L1892.84 416.46L1896.12 412.92L1899.41 409.34L1902.69 405.7L1905.97 402.02L1909.25 398.3L1912.54 394.52L1915.82 390.7L1919.1 386.83L1922.38 382.9L1925.67 378.93L1928.95 374.9L1932.23 370.83L1935.52 366.7L1938.8 362.51L1942.08 358.28L1945.36 353.99L1948.65 349.64L1951.93 345.23L1955.21 340.77L1958.5 336.26L1961.78 331.68L1965.06 327.04L1968.34 322.35L1971.63 317.59L1974.91 312.77L1978.19 307.89L1981.48 302.95L1984.76 297.94L1988.04 292.87L1991.32 287.73L1994.61 282.53L1997.89 277.26L2001.17 271.92L2004.45 266.51L2007.74 261.04L2011.02 255.49L2014.3 249.87L2017.59 244.17L2020.87 238.41L2024.15 232.57L2027.43 226.65L2030.72 220.66L2034 214.59" stroke="#00ff00"/>
<path d="M1213.3 671.2L1216.58 670.94L1219.87 670.67L1223.15 670.4L1226.43 670.12L1229.71 669.84L1233 669.56L1236.28 669.27L1239.56 668.98L1242.85 668.68L1246.13 668.38L1249.41 668.08L1252.69 667.77L1255.98 667.46L1259.26 667.14L1262.54 666.82L1265.82 666.49L1269.11 666.16L1272.39 665.82L1275.67 665.48L1278.96 665.14L1282.24 664.79L1285.52 664.43L1288.8 664.07L1292.09 663.71L1295.37 663.34L1298.65 662.96L1301.94 662.58L1305.22 662.19L1308.5 661.8L1311.78 661.4L1315.07 661L1318.35 660.59L1321.63 660.17L1324.92 659.75L1328.2 659.33L1331.48 658.89L1334.76 658.45L1338.05 658.01L1341.33 657.56L1344.61 657.1L1347.89 656.63L1351.18 656.16L1354.46 655.69L1357.74 655.2L1361.03 654.71L1364.31 654.21L1367.59 653.71L1370.87 653.19L1374.16 652.67L1377.44 652.15L1380.72 651.61L1384.01 651.07L1387.29 650.52L1390.57 649.96L1393.85 649.39L1397.14 648.82L1400.42 648.24L1403.7 647.65L1406.99 647.05L1410.27 646.44L1413.55 645.82L1416.83 645.2L1420.12 644.56L1423.4 643.92L1426.68 643.27L1429.96 642.61L1433.25 641.94L1436.53 641.26L1439.81 640.57L1443.1 639.87L1446.38 639.16L1449.66 638.44L1452.94 637.71L1456.23 636.97L1459.51 636.22L1462.79 635.46L1466.08 634.69L1469.36 633.9L1472.64 633.11L1475.92 632.3L1479.21 631.49L1482.49 630.66L1485.77 629.82L1489.06 628.97L1492.34 628.1L1495.62 627.22L1498.9 626.33L1502.19 625.43L1505.47 624.52L1508.75 623.59L1512.03 622.65L1515.32 621.7L1518.6 620.73L1521.88 619.75L1525.17 618.75L1528.45 617.74L1531.73 616.72L1535.01 615.68L1538.3 614.63L1541.58 613.56L1544.86 612.47L1548.15 611.38L1551.43 610.26L1554.71 609.13L1557.99 607.98L1561.28 606.82L1564.56 605.64L1567.84 604.45L1571.13 603.23L1574.41 602L1577.69 600.76L1580.97 599.49L1584.26 598.21L1587.54 596.91L1590.82 595.59L1594.1 594.25L1597.39 592.89L1600.67 591.51L1603.95 590.12L1607.24 588.7L1610.52 587.26L1613.8 585.8L1617.08 584.33L1620.37 582.83L1623.65 581.31L1626.93 579.77L1630.22 578.2L1633.5 576.62L1636.78 575.01L1640.06 573.38L1643.35 571.72L1646.63 570.04L1649.91 568.34L1653.2 566.62L1656.48 564.87L1659.76 563.09L1663.04 561.29L1666.33 559.46L1669.61 557.61L1672.89 555.73L1676.17 553.83L1679.46 551.9L1682.74 549.94L1686.02 547.95L1689.31 545.93L1692.59 543.89L1695.87 541.81L1699.15 539.71L1702.44 537.58L1705.72 535.42L1709 533.22L1712.29 531L1715.57 528.74L1718.85 526.45L1722.13 524.13L1725.42 521.78L1728.7 519.39L1731.98 516.97L1735.27 514.51L1738.55 512.02L1741.83 509.49L1745.11 506.93L1748.4 504.33L1751.68 501.69L1754.96 499.02L1758.24 496.31L1761.53 493.56L1764.81 490.77L1768.09 487.94L1771.38 485.07L1774.66 482.17L1777.94 479.21L1781.22 476.22L1784.51 473.19L1787.79 470.11L1791.07 466.99L1794.36 463.82L1797.64 460.61L1800.92 457.35L1804.2 454.05L1807.49 450.7L1810.77 447.3L1814.05 443.85L1817.34 440.36L1820.62 436.81L1823.9 433.22L1827.18 429.57L1830.47 425.87L1833.75 422.12L1837.03 418.32L1840.31 414.46L1843.6 410.55L1846.88 406.58L1850.16 402.55L1853.45 398.47L1856.73 394.33L1860.01 390.13L1863.29 385.87L1866.58 381.55L1869.86 377.17L1873.14 372.73L1876.43 368.22L1879.71 363.65L1882.99 359.02L1886.27 354.32L1889.56 349.55L1892.84 344.71L1896.12 339.81L1899.41 334.84L1902.69 329.79L1905.97 324.68L1909.25 319.49L1912.54 314.22L1915.82 308.89L1919.1 303.47L1922.38 297.98L1925.67 292.41L1928.95 286.77L1932.23 281.04L1935.52 275.23L1938.8 269.34L1942.08 263.36L1945.36 257.3L1948.65 251.16L1951.93 244.92L1955.21 238.6L1958.5 232.19L1961.78 225.68L1965.06 219.09L1968.34 212.4L1971.63 205.61L1974.91 198.73L1978.19 191.75L1981.48 184.68L1984.76 177.5L1988.04 170.22L1991.32 162.83L1994.61 155.34L1997.89 147.75L2001.17 140.04L2004.45 132.23L2007.74 124.31L2011.02 116.27L2014.3 108.12L2017.59 99.85L2020.87 91.47L2024.15 82.96L2027.43 74.34L2030.72 65.59L2034 56.72" stroke="#ff8080"/>
</g>
<path d="M1213.3 705.5v-8.4M1213.3 20.8v8.4M1254.34 705.5v-5.2M1254.34 20.8v5.2M1295.37 705.5v-5.2M1295.37 20.8v5.2M1336.4 705.5v-5.2M1336.4 20.8v5.2M1377.44 705.5v-5.2M1377.44 20.8v5.2M1418.47 705.5v-8.4M1418.47 20.8v8.4M1459.51 705.5v-5.2M1459.51 20.8v5.2M1500.55 705.5v-5.2M1500.55 20.8v5.2M1541.58 705.5v-5.2M1541.58 20.8v5.2M1582.62 705.5v-5.2M1582.62 20.8v5.2M1623.65 705.5v-8.4M1623.65 20.8v8.4M1664.68 705.5v-5.2M1664.68 20.8v5.2M1705.72 705.5v-5.2M1705.72 20.8v5.2M1746.76 705.5v-5.2M1746.76 20.8v5.2M1787.79 705.5v-5.2M1787.79 20.8v5.2M1828.83 705.5v-8.4M1828.83 20.8v8.4M1869.86 705.5v-5.2M1869.86 20.8v5.2M1910.89 705.5v-5.2M1910.89 20.8v5.2M1951.93 705.5v-5.2M1951.93 20.8v5.2M1992.97 705.5v-5.2M1992.97 20.8v5.2M2034 705.5v-8.4M2034 20.8v8.4M1195.6 695.25h5.2M2050.7 695.25h-5.2M1195.6 671.2h8.4M2050.7 671.2h-8.4M1195.6 647.15h5.2M2050.7 647.15h-5.2M1195.6 623.1h5.2M2050.7 623.1h-5.2M1195.6 599.06h5.2M2050.7 599.06h-5.2M1195.6 575.01h5.2M2050.7 575.01h-5.2M1195.6 550.96h8.4M2050.7 550.96h-8.4M1195.6 526.91h5.2M2050.7 526.91h-5.2M1195.6 502.86h5.2M2050.7 502.86h-5.2M1195.6 478.82h5.2M2050.7 478.82h-5.2M1195.6 454.77h5.2M2050.7 454.77h-5.2M1195.6 430.72h8.4M2050.7 430.72h-8.4M1195.6 406.67h5.2M2050.7 406.67h-5.2M1195.6 382.62h5.2M2050.7 382.62h-5.2M1195.6 358.58h5.2M2050.7 358.58h-5.2M1195.6 334.53h5.2M2050.7 334.53h-5.2M1195.6 310.48h8.4M2050.7 310.48h-8.4M1195.6 286.43h5.2M2050.7 286.43h-5.2M1195.6 262.38h5.2M2050.7 262.38h-5.2M1195.6 238.34h5.2M2050.7 238.34h-5.2M1195.6 214.29h5.2M2050.7 214.29h-5.2M1195.6 190.24h8.4M2050.7 190.24h-8.4M1195.6 166.19h5.2M2050.7 166.19h-5.2M1195.6 142.14h5.2M2050.7 142.14h-5.2M1195.6 118.1h5.2M2050.7 118.1h-5.2M1195.6 94.05h5.2M2050.7 94.05h-5.2M1195.6 70h8.4M2050.7 70h-8.4M1195.6 45.95h5.2M2050.7 45.95h-5.2M1195.6 21.9h5.2M2050.7 21.9h-5.2" stroke="#141414" stroke-width="1.4" fill="none"/>
<path d="M1195.6 20.8V705.5H2050.7V20.8" fill="none" stroke="#141414" stroke-width="1.8" stroke-linejoin="miter"/>
<path d="M1194.7 20.8H2051.6" fill="none" stroke="#555555" stroke-width="1.8"/>
<text transform="translate(1108.21 685.2) scale(0.413 0.446)" style="font-weight:bold">0.00</text>
<g transform="translate(1107.67 564.96) scale(0.413 0.446)"><text style="font-weight:bold">0.01</text><g fill="#fff"><rect x="141.82" y="-13.7" width="20.53" height="17.19"/><rect x="176.07" y="-13.7" width="19.26" height="17.19"/></g></g>
<text transform="translate(1108.17 444.72) scale(0.413 0.446)" style="font-weight:bold">0.02</text>
<text transform="translate(1108.01 324.48) scale(0.413 0.446)" style="font-weight:bold">0.03</text>
<text transform="translate(1106.74 204.24) scale(0.413 0.446)" style="font-weight:bold">0.04</text>
<text transform="translate(1107.67 84) scale(0.413 0.446)" style="font-weight:bold">0.05</text>
<text transform="translate(1201.25 750) scale(0.413 0.446)" style="font-weight:bold">0</text>
<text transform="translate(1395.12 750) scale(0.413 0.446)" style="font-weight:bold">50</text>
<g transform="translate(1588.14 750) scale(0.413 0.446)"><text style="font-weight:bold">100</text><g fill="#fff"><rect x="2.81" y="-13.7" width="20.53" height="17.19"/><rect x="37.06" y="-13.7" width="19.26" height="17.19"/></g></g>
<g transform="translate(1793.32 750) scale(0.413 0.446)"><text style="font-weight:bold">150</text><g fill="#fff"><rect x="2.81" y="-13.7" width="20.53" height="17.19"/><rect x="37.06" y="-13.7" width="19.26" height="17.19"/></g></g>
<text transform="translate(1999.08 750) scale(0.413 0.446)" style="font-weight:bold">200</text>
<line x1="1254.5" y1="64.5" x2="1340.5" y2="64.5" stroke="#000000" stroke-width="5.1" stroke-dasharray="9.07 4.53 2.52 4.53 9.07"/>
<g class="legend-label"><text transform="translate(1360.78 76.1) scale(0.3468 0.3588)" style="font-weight:bold">k</text><text transform="translate(1381.1 80.6) scale(0.2342 0.12)" style="font-weight:normal;font-family:'DejaVu Sans',sans-serif" fill="#333">⊥</text><text transform="translate(1405.41 76.07) scale(0.3708 0.334)" style="font-weight:normal;font-style:italic" stroke="#000" stroke-width="3.69" stroke-linejoin="round">ρ</text><text transform="translate(1424.12 83.4) scale(0.2697 0.2636)" style="font-weight:bold">i</text><text transform="translate(1432.64 76.42) scale(0.327 0.262)" style="font-weight:bold" stroke="#000" stroke-width="1.7" stroke-linejoin="round">=</text><text transform="translate(1452.34 76.01) scale(0.368 0.3969)" style="font-weight:bold">0.058</text></g>
<line x1="1254.5" y1="132.8" x2="1340.5" y2="132.8" stroke="#0000ff" stroke-width="5.1" stroke-dasharray="9.07 4.53 2.52 4.53 9.07"/>
<g class="legend-label"><text transform="translate(1360.78 144.1) scale(0.3468 0.3588)" style="font-weight:bold">k</text><text transform="translate(1381.1 148.6) scale(0.2342 0.12)" style="font-weight:normal;font-family:'DejaVu Sans',sans-serif" fill="#333">⊥</text><text transform="translate(1405.41 144.07) scale(0.3708 0.334)" style="font-weight:normal;font-style:italic" stroke="#000" stroke-width="3.69" stroke-linejoin="round">ρ</text><text transform="translate(1424.12 151.4) scale(0.2697 0.2636)" style="font-weight:bold">i</text><text transform="translate(1432.64 144.42) scale(0.327 0.262)" style="font-weight:bold" stroke="#000" stroke-width="1.7" stroke-linejoin="round">=</text><text transform="translate(1452.34 144.01) scale(0.3695 0.3969)" style="font-weight:bold">0.060</text></g>
<line x1="1254.5" y1="201.1" x2="1340.5" y2="201.1" stroke="#00ff00" stroke-width="5.1" stroke-dasharray="9.07 4.53 2.52 4.53 9.07"/>
<g class="legend-label"><text transform="translate(1360.78 212) scale(0.3468 0.3588)" style="font-weight:bold">k</text><text transform="translate(1381.1 216.5) scale(0.2342 0.12)" style="font-weight:normal;font-family:'DejaVu Sans',sans-serif" fill="#333">⊥</text><text transform="translate(1405.41 211.97) scale(0.3708 0.334)" style="font-weight:normal;font-style:italic" stroke="#000" stroke-width="3.69" stroke-linejoin="round">ρ</text><text transform="translate(1424.12 219.3) scale(0.2697 0.2636)" style="font-weight:bold">i</text><text transform="translate(1432.64 212.32) scale(0.327 0.262)" style="font-weight:bold" stroke="#000" stroke-width="1.7" stroke-linejoin="round">=</text><text transform="translate(1452.34 211.91) scale(0.3694 0.3969)" style="font-weight:bold">0.062</text></g>
<line x1="1254.5" y1="269.4" x2="1340.5" y2="269.4" stroke="#ff8080" stroke-width="5.1" stroke-dasharray="9.07 4.53 2.52 4.53 9.07"/>
<g class="legend-label"><text transform="translate(1360.78 280.3) scale(0.3468 0.3588)" style="font-weight:bold">k</text><text transform="translate(1381.1 284.8) scale(0.2342 0.12)" style="font-weight:normal;font-family:'DejaVu Sans',sans-serif" fill="#333">⊥</text><text transform="translate(1405.41 280.27) scale(0.3708 0.334)" style="font-weight:normal;font-style:italic" stroke="#000" stroke-width="3.69" stroke-linejoin="round">ρ</text><text transform="translate(1424.12 287.6) scale(0.2697 0.2636)" style="font-weight:bold">i</text><text transform="translate(1432.64 280.62) scale(0.327 0.262)" style="font-weight:bold" stroke="#000" stroke-width="1.7" stroke-linejoin="round">=</text><text transform="translate(1452.36 280.21) scale(0.3642 0.3969)" style="font-weight:bold">0.064</text></g>
<g class="x-axis-label"><text transform="translate(1413.92 828.2) scale(0.7432 0.6473)" style="font-weight:bold">z</text> <text transform="translate(1464.99 829.25) scale(0.336 0.3353)" style="font-weight:bold" stroke="#000" stroke-width="4.77" stroke-linejoin="round">×</text> <text transform="translate(1501.96 826.51) scale(0.7166 0.6612)" style="font-weight:normal" stroke="#fff" stroke-width="1.74">(</text><text transform="translate(1527.89 827.05) scale(0.6602 0.6621)" style="font-weight:bold" stroke="#fff" stroke-width="1.06">5</text><text transform="translate(1566.53 829.25) scale(0.326 0.3353)" style="font-weight:bold" stroke="#000" stroke-width="4.84" stroke-linejoin="round">×</text><g transform="translate(1586.24 827.05) scale(0.6957 0.6681)"><text style="font-weight:bold" stroke="#fff" stroke-width="1.03">10</text><g fill="#fff"><rect x="4.1" y="-12.4" width="19.24" height="14.6"/><rect x="37.06" y="-12.4" width="17.97" height="14.6"/></g></g><text transform="translate(1664.6 795.98) scale(0.2413 0.3017)" style="font-weight:bold">−</text><text transform="translate(1679.28 794.6) scale(0.2744 0.2994)" style="font-weight:bold" stroke="#000" stroke-width="1.74" stroke-linejoin="round">4</text><text transform="translate(1697.25 828.2) scale(0.5451 0.5901)" style="font-weight:bold">R</text><text transform="translate(1736.89 838.03) scale(0.4004 0.3757)" style="font-weight:bold">sun</text><text transform="translate(1808 826.51) scale(0.6751 0.6612)" style="font-weight:normal" stroke="#fff" stroke-width="1.8">)</text></g>
<g class="y-axis-label"><text transform="translate(1046.21 325.3) scale(0.5625 0.5741)" style="font-weight:bold;font-style:italic">I</text><text transform="translate(1063.63 334.8) scale(0.3471 0.3748)" style="font-weight:bold;font-style:italic" stroke="#000" stroke-width="2.22" stroke-linejoin="round">x</text><rect x="1045.1" y="357.3" width="40.8" height="5.9" fill="#000"/><text transform="translate(1049.44 429.6) scale(0.5481 0.5712)" style="font-weight:bold;font-style:italic">I</text><text transform="translate(1064.68 438.9) scale(0.3614 0.3691)" style="font-weight:bold;font-style:italic" stroke="#000" stroke-width="2.19" stroke-linejoin="round">z</text></g>
</g>
</svg></body></html>
